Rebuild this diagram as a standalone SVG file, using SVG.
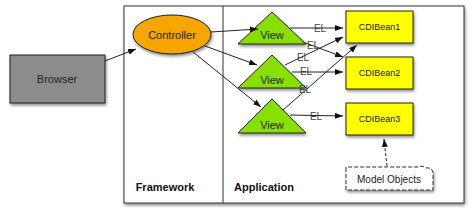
<svg xmlns="http://www.w3.org/2000/svg" width="474" height="216" viewBox="0 0 474 216">
<defs>
<filter id="sh" x="-20%" y="-20%" width="150%" height="160%"><feDropShadow dx="1" dy="2" stdDeviation="1.5" flood-color="#000" flood-opacity="0.45"/></filter>
<marker id="ah" markerWidth="8" markerHeight="6" refX="8" refY="3" orient="auto" markerUnits="userSpaceOnUse"><path d="M0,0 L8,3 L0,6 z" fill="#111"/></marker>
<style>
text{font-family:"Liberation Sans",Arial,sans-serif;fill:#222;text-anchor:middle}
.n{stroke:#222;stroke-width:1}
.c{stroke:#222;stroke-width:1;fill:none;marker-end:url(#ah)}
.el{font-size:10px;fill:#444}
.lbl{font-size:11px}
.b{font-size:9px}
</style>
</defs>
<g id="container">
<rect x="124" y="6" width="340" height="197" fill="#fff" stroke="#333" stroke-width="1" filter="url(#sh)"/>
<line x1="223" y1="6" x2="223" y2="203" stroke="#333"/>
<text x="165" y="191" style="font-size:11px;font-weight:bold;fill:#111">Framework</text>
<text x="264" y="191" style="font-size:11px;font-weight:bold;fill:#111">Application</text>
</g>
<g id="browser"><rect class="n" x="10" y="55" width="95" height="48" fill="#8c8c8c" filter="url(#sh)"/><text class="lbl" x="57" y="83">Browser</text></g>
<g id="controller"><ellipse class="n" cx="172" cy="34.5" rx="39" ry="19.5" fill="#f7a600" filter="url(#sh)"/><text class="lbl" x="172" y="38.5">Controller</text></g>
<g id="view1"><polygon class="n" points="272,12 238,44 306,44" fill="#88e000" filter="url(#sh)"/><text class="lbl" x="272" y="39">View</text></g>
<g id="view2"><polygon class="n" points="272,55 238,88 306,88" fill="#88e000" filter="url(#sh)"/><text class="lbl" x="272" y="84">View</text></g>
<g id="view3"><polygon class="n" points="272,99 238,133 306,133" fill="#88e000" filter="url(#sh)"/><text class="lbl" x="272" y="129">View</text></g>
<g id="cdibean1"><rect class="n" x="346" y="11" width="67" height="32" fill="#ffff00" filter="url(#sh)"/><text class="b" x="379.5" y="30">CDIBean1</text></g>
<g id="cdibean2"><rect class="n" x="346" y="57" width="67" height="32" fill="#ffff00" filter="url(#sh)"/><text class="b" x="379.5" y="76">CDIBean2</text></g>
<g id="cdibean3"><rect class="n" x="346" y="103" width="67" height="32" fill="#ffff00" filter="url(#sh)"/><text class="b" x="379.5" y="122">CDIBean3</text></g>
<g id="modelobjects"><path d="M346,168 L346,190 L433,190 L433,172 Q431,167 426,168 Q422,165 418,167 L346,167 z" fill="#fff" stroke="#333" stroke-dasharray="4,2" filter="url(#sh)"/><text x="389" y="183" style="font-size:10px">Model Objects</text></g>
<g id="connectors">
<line class="c" x1="105" y1="61" x2="136" y2="49"/>
<line class="c" x1="211" y1="32" x2="258" y2="29"/>
<line class="c" x1="205" y1="46" x2="257" y2="65"/>
<line class="c" x1="193" y1="52" x2="261" y2="107"/>
<line class="c" x1="290" y1="28" x2="343" y2="28"/>
<line class="c" x1="303" y1="42" x2="343" y2="57"/>
<line class="c" x1="285" y1="65" x2="343" y2="37"/>
<line class="c" x1="292" y1="72" x2="343" y2="72"/>
<line class="c" x1="283" y1="110" x2="357" y2="45"/>
<line class="c" x1="290" y1="115" x2="343" y2="116"/>
<line class="c" x1="387" y1="166" x2="384" y2="139" stroke-dasharray="3,2"/>
<text class="el" x="320" y="32">EL</text>
<text class="el" x="313" y="49">EL</text>
<text class="el" x="303" y="61">EL</text>
<text class="el" x="306" y="75">EL</text>
<text class="el" x="305" y="93">EL</text>
<text class="el" x="316" y="120">EL</text>
</g>
</svg>
